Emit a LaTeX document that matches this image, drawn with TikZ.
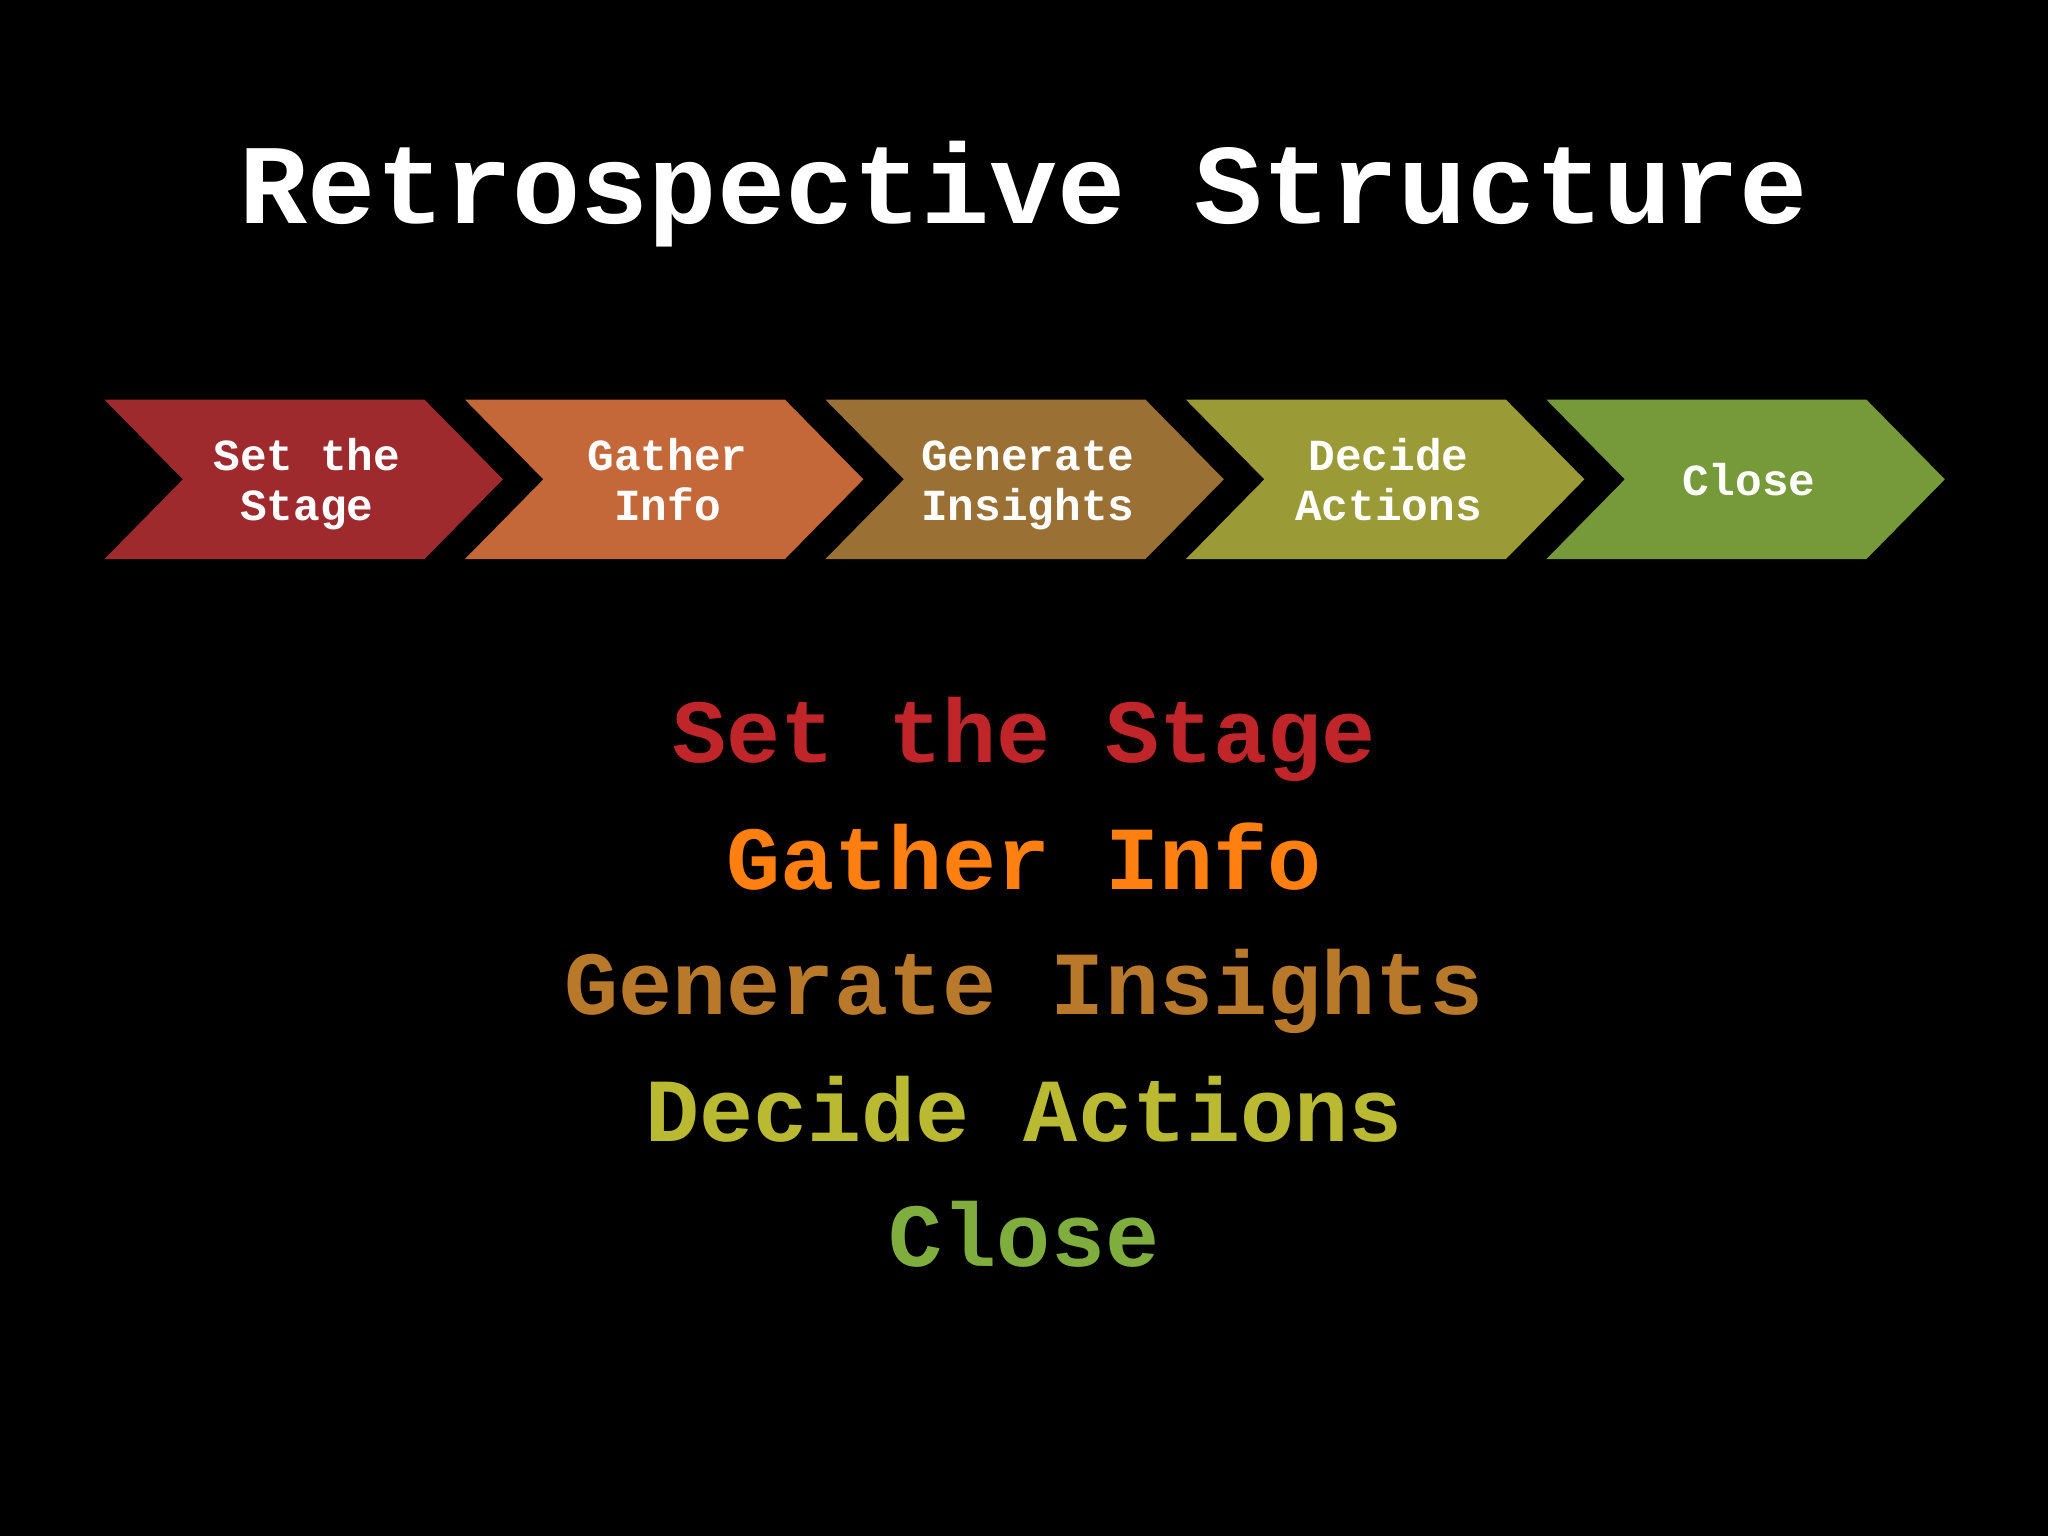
\documentclass[tikz,border=0pt]{standalone}
\usepackage{fontspec}
\setmainfont{Liberation Mono}
\definecolor{c1}{HTML}{9E2A2D}\definecolor{c2}{HTML}{C4683A}
\definecolor{c3}{HTML}{9A7034}\definecolor{c4}{HTML}{9A9A36}
\definecolor{c5}{HTML}{76993A}
\definecolor{t1}{HTML}{C0252A}\definecolor{t2}{HTML}{FF8010}
\definecolor{t3}{HTML}{B87A2A}\definecolor{t4}{HTML}{BABA32}
\definecolor{t5}{HTML}{80AE3E}
\begin{document}
\begin{tikzpicture}[x=0.5pt,y=-0.5pt,
  lab/.style={text=white,font=\bfseries\fontsize{17}{19}\selectfont,align=center},
  big/.style={font=\bfseries\fontsize{34.5}{36}\selectfont,anchor=base}]
\fill[black] (0,0) rectangle (1568,1176);
\useasboundingbox (0,0) rectangle (1568,1176);
\node[text=white,font=\bfseries\fontsize{43.5}{46}\selectfont,anchor=base] (title) at (784,171) {Retrospective Structure};
\foreach \i/\c/\t in {0/c1/{\strut Set the\\\strut Stage},1/c2/{\strut Gather\\\strut Info},2/c3/{\strut Generate\\\strut Insights},3/c4/{\strut Decide\\\strut Actions},4/c5/{\strut Close}}{
  \pgfmathsetmacro\xo{80+276*\i}
  \fill[\c] (\xo,306) -- (\xo+245,306) -- (\xo+305,367) -- (\xo+245,428) -- (\xo,428) -- (\xo+60,367) -- cycle;
  \node[lab] (ch\i) at (\xo+155,372) {\t};
}
\node[big,text=t1] (l1) at (784,584) {Set the Stage};
\node[big,text=t2] (l2) at (784,681) {Gather Info};
\node[big,text=t3] (l3) at (784,777) {Generate Insights};
\node[big,text=t4] (l4) at (784,874) {Decide Actions};
\node[big,text=t5] (l5) at (784,970) {Close};
\end{tikzpicture}
\end{document}
